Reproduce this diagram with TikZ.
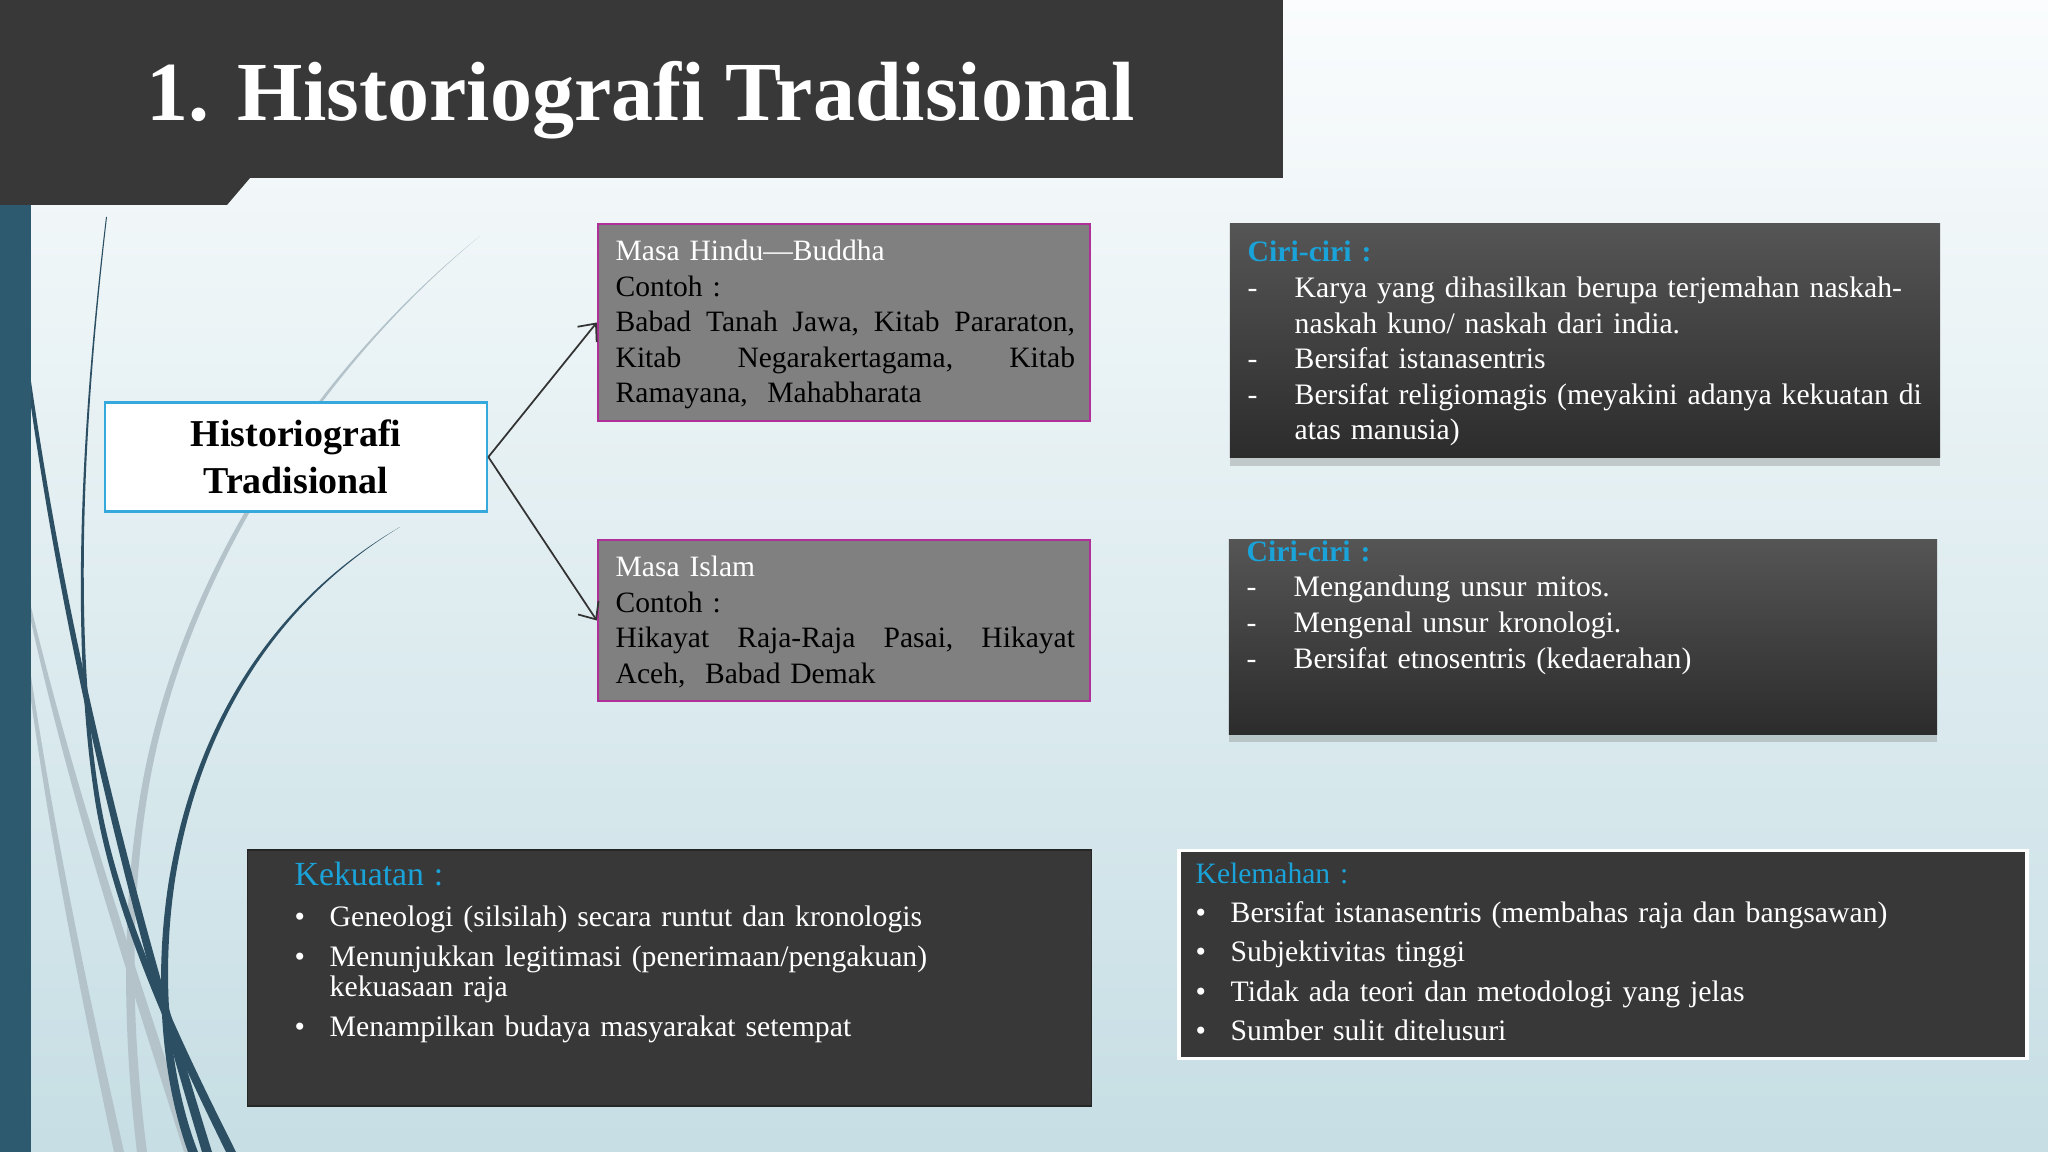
\documentclass[tikz,border=0pt]{standalone}
\usepackage{fontspec}
\setmainfont{Liberation Serif}
\usetikzlibrary{positioning,arrows.meta,shadows}

\definecolor{barbg}{HTML}{383838}
\definecolor{bandblue}{HTML}{2E5A70}
\definecolor{curveblue}{HTML}{2C4F63}
\definecolor{curvegrey}{HTML}{B4C3CA}
\definecolor{bgtop}{HTML}{FAFCFD}
\definecolor{bgbottom}{HTML}{C6DEE4}
\definecolor{periodgrey}{HTML}{808080}
\definecolor{periodedge}{HTML}{B0309A}
\definecolor{histedge}{HTML}{35A8DC}
\definecolor{headcyan}{HTML}{1AA3D9}
\definecolor{ciritop}{HTML}{555555}
\definecolor{ciribottom}{HTML}{2C2C2C}
\definecolor{arrowgrey}{HTML}{333333}

\newcommand{\dashitem}[1]{\makebox[0.47cm][l]{-}#1}
\newcommand{\bulitem}[1]{\makebox[0.35cm][l]{\textbullet}#1}
\newcommand{\fullline}[1]{\makebox[4.59cm][l]{#1}}

\begin{document}
\begin{tikzpicture}[x=0.01cm,y=-0.01cm,
  >={Straight Barb[length=4pt,width=7pt]},
  histbox/.style={draw=histedge, line width=0.7pt, fill=white, align=center,
    minimum width=3.82cm, minimum height=1.09cm,
    font=\fontsize{10.8}{13.3}\selectfont\bfseries},
  periodbox/.style={draw=periodedge, line width=0.6pt, fill=periodgrey, minimum width=4.92cm},
  ciribox/.style={top color=ciritop, bottom color=ciribottom,
    drop shadow={shadow xshift=0pt, shadow yshift=-2.4pt, opacity=0.35}},
  darkbox/.style={fill=barbg, draw=black!85, line width=0.4pt},
  bodytext/.style={anchor=base west, inner sep=0pt, align=left}]

\useasboundingbox (0,0) rectangle (2048,1152);
\shade[top color=bgtop, bottom color=bgbottom] (0,0) rectangle (2048,1152);

% curves on the left
\fill[curvegrey] (480,236) .. controls (330,360) and (190,560) .. (150,780)
  .. controls (125,920) and (135,1060) .. (147,1152) -- (137,1152)
  .. controls (126,1060) and (117,920) .. (143,780)
  .. controls (185,558) and (328,358) .. (480,236) -- cycle;
\fill[curvegrey] (20,560) .. controls (70,780) and (140,980) .. (196,1152) -- (184,1152)
  .. controls (130,980) and (62,780) .. (18,560) -- cycle;
\fill[curvegrey] (20,600) .. controls (50,820) and (90,1000) .. (124,1152) -- (114,1152)
  .. controls (82,1000) and (44,820) .. (18,600) -- cycle;
\fill[curveblue] (107,217) .. controls (80,450) and (75,650) .. (100,800)
  .. controls (120,920) and (190,1060) .. (236,1152) -- (226,1152)
  .. controls (182,1062) and (114,922) .. (95,800)
  .. controls (72,650) and (78,450) .. (106,217) -- cycle;
\fill[curveblue] (20,300) .. controls (55,580) and (118,850) .. (212,1152) -- (202,1152)
  .. controls (111,850) and (50,580) .. (17,300) -- cycle;
\fill[curveblue] (400,527) .. controls (280,600) and (200,720) .. (175,880)
  .. controls (160,980) and (170,1080) .. (198,1152) -- (188,1152)
  .. controls (162,1080) and (153,980) .. (169,880)
  .. controls (196,718) and (278,598) .. (400,527) -- cycle;

\fill[bandblue] (0,205) rectangle (31,1152);
\fill[barbg] (0,0) rectangle (1283,178);
\fill[barbg] (0,178) -- (250,178) -- (227,205) -- (0,205) -- cycle;

\node[anchor=base, text=white, font=\fontsize{23.9}{28}\selectfont\bfseries] (title) at (641,121) {1. Historiografi Tradisional};

\node[histbox] (hist) at (296,457) {Historiografi\\Tradisional};

\node[periodbox, minimum height=1.97cm] (hindu) at (844,322.5) {};
\node[periodbox, minimum height=1.61cm] (islam) at (844,620.5) {};

\node[bodytext, text width=4.7cm, font=\fontsize{8.4}{10.07}\selectfont] (hindutext) at (615,261)
  {{\color{white}Masa Hindu—Buddha}\\
   Contoh :\\
   \fullline{Babad\hfill Tanah\hfill Jawa,\hfill Kitab\hfill Pararaton,}\\
   \fullline{Kitab\hfill Negarakertagama,\hfill Kitab}\\
   Ramayana,\ \ Mahabharata};
\node[bodytext, text width=4.7cm, font=\fontsize{8.4}{10.07}\selectfont] (islamtext) at (615,577)
  {{\color{white}Masa Islam}\\
   Contoh :\\
   \fullline{Hikayat\hfill Raja-Raja\hfill Pasai,\hfill Hikayat}\\
   Aceh,\ \ Babad Demak};

\draw[->, arrowgrey, line width=0.5pt] (hist.east) -- (hindu.west);
\draw[->, arrowgrey, line width=0.5pt] (hist.east) -- (islam.west);

\node[ciribox, minimum width=7.1cm, minimum height=2.33cm] (ciri1) at (1585,340.5) {};
\node[ciribox, minimum width=7.08cm, minimum height=1.94cm] (ciri2) at (1583,637) {};

\node[bodytext, text width=7.2cm, text=white, font=\fontsize{8.45}{10.1}\selectfont] (ciri1text) at (1247,262)
  {{\bfseries\color{headcyan}Ciri-ciri :}\\
   \dashitem{Karya yang dihasilkan berupa terjemahan naskah-}\\
   \hspace*{0.47cm}naskah kuno/ naskah dari india.\\
   \dashitem{Bersifat istanasentris}\\
   \dashitem{Bersifat religiomagis (meyakini adanya kekuatan di}\\
   \hspace*{0.47cm}atas manusia)};
\node[bodytext, text width=7.2cm, text=white, font=\fontsize{8.45}{10.2}\selectfont] (ciri2text) at (1246,561)
  {{\bfseries\color{headcyan}Ciri-ciri :}\\
   \dashitem{Mengandung unsur mitos.}\\
   \dashitem{Mengenal unsur kronologi.}\\
   \dashitem{Bersifat etnosentris (kedaerahan)}};

\node[darkbox, minimum width=8.43cm, minimum height=2.56cm] (kekuatan) at (669.5,978) {};
\node[fill=barbg, draw=white, line width=1.1pt, minimum width=8.48cm, minimum height=2.08cm] (kelemahan) at (1603,954.5) {};

\node[bodytext, text width=8cm, text=white, font=\fontsize{8.45}{8.5}\selectfont] (kekuatantext) at (294,885)
  {{\fontsize{9.6}{8.5}\selectfont\color{headcyan}Kekuatan :}\\[3.4pt]
   \bulitem{Geneologi (silsilah) secara runtut dan kronologis}\\[2.85pt]
   \bulitem{Menunjukkan legitimasi (penerimaan/pengakuan)}\\
   \hspace*{0.35cm}kekuasaan raja\\[2.85pt]
   \bulitem{Menampilkan budaya masyarakat setempat}};
\node[bodytext, text width=8.2cm, text=white, font=\fontsize{8.45}{11.2}\selectfont] (kelemahantext) at (1195,883)
  {{\fontsize{8.4}{11.2}\selectfont\color{headcyan}Kelemahan :}\\
   \bulitem{Bersifat istanasentris (membahas raja dan bangsawan)}\\
   \bulitem{Subjektivitas tinggi}\\
   \bulitem{Tidak ada teori dan metodologi yang jelas}\\
   \bulitem{Sumber sulit ditelusuri}};
\end{tikzpicture}
\end{document}
